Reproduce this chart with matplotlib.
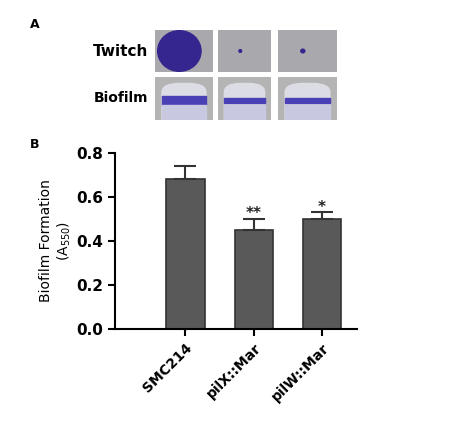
import numpy as np
import matplotlib.pyplot as plt
from matplotlib.patches import Ellipse, Rectangle, FancyBboxPatch

strains = ["SMC214", "pilX::Mar", "pilW::Mar"]
biofilm = [0.68, 0.45, 0.50]
sem = [0.06, 0.05, 0.03]
stars = ["", "**", "*"]
yticks = [0.0, 0.2, 0.4, 0.6, 0.8]

W, H = 474, 436
fig = plt.figure(figsize=(W / 100, H / 100), dpi=100)

def px_axes(x0, y0, x1, y1):
    return fig.add_axes([x0 / W, 1 - y1 / H, (x1 - x0) / W, (y1 - y0) / H])

# panel A: approximate photos
cols = [(155, 213), (218, 271), (278, 337)]
twitch_size = [0.44, 0.03, 0.04]
band = [0.10, 0.05, 0.06]
for i, (x0, x1) in enumerate(cols):
    a = px_axes(x0, 30, x1, 72)
    a.set_xlim(0, 1); a.set_ylim(0, 1); a.axis("off")
    a.add_patch(Rectangle((0, 0), 1, 1, color="#a9a9ad"))
    r = twitch_size[i]
    a.add_patch(Ellipse((0.42, 0.5), r * 1.7, r * 2.2, color="#35268f"))
    b = px_axes(x0, 77, x1, 120)
    b.set_xlim(0, 1); b.set_ylim(0, 1); b.axis("off")
    b.add_patch(Rectangle((0, 0), 1, 1, color="#b4b4b4"))
    b.add_patch(FancyBboxPatch((0.12, -0.2), 0.76, 1.05, boxstyle="round,pad=0,rounding_size=0.3",
                               color="#dcdce4", mutation_aspect=0.7))
    b.add_patch(Rectangle((0.12, 0.45 - band[i]), 0.76, band[i] * 2, color="#4a40b5"))
    b.add_patch(Rectangle((0.12, 0.0), 0.76, 0.35, color="#c8c8e0"))

fig.text(30 / W, 1 - 25 / H, "A", fontsize=9, fontweight="bold", va="center")
fig.text(148 / W, 1 - 51 / H, "Twitch", fontsize=11, fontweight="bold", ha="right", va="center")
fig.text(148 / W, 1 - 98 / H, "Biofilm", fontsize=10, fontweight="bold", ha="right", va="center")
fig.text(30 / W, 1 - 145 / H, "B", fontsize=9, fontweight="bold", va="center")

# panel B: bar chart
ax = px_axes(115, 153, 357, 329)
x = np.arange(len(strains))
ax.bar(x, biofilm, width=0.56, color="#595959", edgecolor="#333333", linewidth=1.2,
       yerr=[np.zeros(3), sem], error_kw=dict(ecolor="#333333", elinewidth=1.5, capsize=8, capthick=1.5))
for xi, v, e, s in zip(x, biofilm, sem, stars):
    if s:
        ax.text(xi, v + e - 0.01, s, ha="center", va="bottom", fontsize=11, fontweight="bold", color="#222222")
ax.set_xlim(-1.03, 2.51)
ax.set_ylim(0, 0.8)
ax.set_yticks(yticks)
ax.set_yticklabels(["%.1f" % t for t in yticks], fontsize=11, fontweight="bold")
ax.set_xticks(x)
ax.set_xticklabels(strains, rotation=45, ha="right", rotation_mode="anchor", fontsize=10, fontweight="bold")
for sp in ["top", "right"]:
    ax.spines[sp].set_visible(False)
for sp in ["left", "bottom"]:
    ax.spines[sp].set_linewidth(1.5)
ax.tick_params(width=1.5, length=5)
ax.set_ylabel("Biofilm Formation\n(A$_{550}$)", fontsize=10, labelpad=2)

fig.savefig("out.png", dpi=100)
